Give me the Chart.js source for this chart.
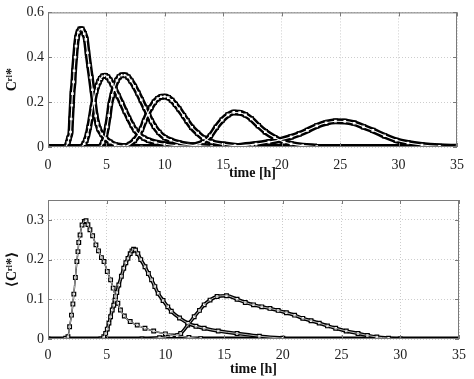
<!DOCTYPE html>
<html><head><meta charset="utf-8">
<script src="https://cdn.jsdelivr.net/npm/chart.js@4"></script>
<style>
html,body{margin:0;padding:0;background:#fff;width:474px;height:379px;overflow:hidden}
canvas{position:absolute;left:0}
#c1{top:0}
#c2{top:182px}
</style></head><body>
<canvas id="c1" width="474" height="182"></canvas>
<canvas id="c2" width="474" height="197"></canvas>
<script>
// ---------- data ----------
const xTickValues = [0,5,10,15,20,25,30,35];
const topYTicks = [0,0.2,0.4,0.6];
const botYTicks = [0,0.1,0.2,0.3];
const xTitle = "time [h]";
const topYTitle = "Cʳˡ*";
const botYTitle = "⟨Cʳˡ*⟩";

// top panel: six breakthrough curves (time h, value)
const top1T = [0,1.5,1.7,1.8,1.93,1.98,2.04,2.09,2.18,2.23,2.32,2.4,2.48,2.6,2.75,2.9,3.1,3.24,3.38,3.52,3.66,3.8,3.94,4.08,4.22,4.36,4.6,4.92,5.3,5.75,6.5,8];
const top1V = [0,0,0.02,0.04,0.067,0.125,0.186,0.238,0.29,0.34,0.40,0.45,0.487,0.512,0.525,0.525,0.505,0.48,0.42,0.364,0.31,0.255,0.195,0.139,0.105,0.081,0.058,0.038,0.022,0.01,0.004,0];
const top2T = [2.9,3.1,3.24,3.38,3.52,3.66,3.8,3.94,4.08,4.22,4.36,4.5,4.7,4.9,5.1,5.3,5.5,5.75,6.0,6.3,6.6,6.9,7.2,7.45,7.8,8.2,8.6,9.2,10,11,12.5];
const top2V = [0,0.015,0.03,0.055,0.088,0.13,0.175,0.213,0.248,0.272,0.29,0.305,0.316,0.318,0.312,0.298,0.28,0.255,0.228,0.195,0.16,0.128,0.098,0.076,0.055,0.04,0.03,0.02,0.012,0.006,0.002];
const top3T = [4.5,4.7,4.9,5.05,5.2,5.33,5.5,5.7,5.9,6.1,6.35,6.6,6.85,7.1,7.4,7.7,7.98,8.3,8.6,8.85,9.1,9.5,10,10.5,11.2,12,13,14];
const top3V = [0,0.02,0.05,0.09,0.14,0.19,0.23,0.27,0.297,0.313,0.32,0.32,0.312,0.295,0.27,0.24,0.21,0.175,0.142,0.115,0.092,0.065,0.042,0.03,0.018,0.01,0.005,0.002];
const top4T = [6.5,7.0,7.4,7.7,8.0,8.26,8.5,8.8,9.1,9.4,9.7,10.0,10.3,10.6,10.9,11.2,11.6,11.9,12.3,12.8,13.3,14,15,16,17.5];
const top4V = [0,0.012,0.03,0.05,0.08,0.115,0.145,0.175,0.2,0.216,0.224,0.225,0.22,0.208,0.19,0.17,0.14,0.117,0.088,0.062,0.04,0.022,0.012,0.006,0.002];
const top5T = [11.5,12.5,13.3,13.9,14.4,14.9,15.4,15.9,16.4,16.9,17.4,18.0,18.6,19.4,20.2,20.8,21.8,23];
const top5V = [0,0.008,0.022,0.05,0.088,0.12,0.143,0.154,0.153,0.143,0.125,0.095,0.068,0.042,0.022,0.014,0.006,0.002];
const top6T = [15,16.5,17.8,18.9,19.9,20.8,21.5,22.2,23,23.8,24.6,25.4,26.2,27,27.8,28.8,29.8,30.8,32,33.5,35];
const top6V = [0,0.006,0.013,0.022,0.032,0.045,0.058,0.074,0.094,0.108,0.115,0.114,0.106,0.09,0.074,0.05,0.03,0.018,0.009,0.003,0.001];
const baseT = [0,35];
const baseV = [0,0];

// bottom panel: three averaged curves
const botAT = [0,1.5,1.7,1.84,2.0,2.12,2.2,2.33,2.46,2.55,2.62,2.73,2.9,3.1,3.24,3.4,3.57,3.8,4.08,4.3,4.55,4.77,5.05,5.33,5.55,5.75,5.95,6.17,6.5,7.0,7.6,8.26,9,10,11,12,13];
const botAV = [0,0.002,0.006,0.031,0.06,0.088,0.113,0.155,0.195,0.22,0.243,0.262,0.287,0.296,0.298,0.288,0.275,0.26,0.237,0.222,0.205,0.195,0.17,0.149,0.128,0.107,0.09,0.073,0.058,0.044,0.035,0.027,0.02,0.013,0.008,0.004,0.001];
const botBT = [4.5,4.75,4.91,5.05,5.19,5.33,5.47,5.6,5.7,5.86,6.03,6.25,6.45,6.63,6.81,7.0,7.15,7.29,7.45,7.65,7.9,8.26,8.55,8.82,9.1,9.38,9.8,10.2,10.5,11.2,11.9,12.6,13.3,14.5,16.1,18,20];
const botBV = [0,0.006,0.014,0.025,0.04,0.056,0.073,0.085,0.098,0.117,0.136,0.158,0.178,0.192,0.203,0.215,0.222,0.226,0.224,0.215,0.2,0.182,0.165,0.149,0.132,0.115,0.097,0.081,0.07,0.053,0.04,0.032,0.027,0.02,0.014,0.007,0.002];
const botCT = [8,9.5,10.5,11.3,11.9,12.45,12.9,13.3,13.8,14.4,15.2,16.1,16.8,17.5,18.2,18.9,19.6,20.3,21.0,21.7,22.4,23.1,23.8,24.5,25.4,26.4,27.2,28,29,30];
const botCV = [0,0.003,0.008,0.014,0.035,0.056,0.072,0.086,0.098,0.107,0.109,0.1,0.092,0.086,0.081,0.077,0.072,0.066,0.06,0.052,0.046,0.04,0.033,0.027,0.02,0.014,0.009,0.005,0.002,0];

// ---------- helpers ----------
const pts = (t,v) => t.map((x,i)=>({x:x,y:v[i]}));
const SERIF = "'Liberation Serif','DejaVu Serif',serif";

function frame(){
  return {
    id:'frame',
    afterDatasetsDraw(chart){
      const a = chart.chartArea, ctx = chart.ctx;
      ctx.save();
      ctx.strokeStyle = '#7a7a7a'; ctx.lineWidth = 1;
      ctx.strokeRect(a.left+0.5, a.top+0.5, a.right-a.left-1, a.bottom-a.top-1);
      const xs = chart.scales.x, ys = chart.scales.y;
      ctx.beginPath();
      xs.ticks.forEach(tk=>{const px=Math.round(xs.getPixelForValue(tk.value))+0.5;
        ctx.moveTo(px,a.bottom); ctx.lineTo(px,a.bottom-4);
        ctx.moveTo(px,a.top); ctx.lineTo(px,a.top+4);});
      ys.ticks.forEach(tk=>{const py=Math.round(ys.getPixelForValue(tk.value))+0.5;
        ctx.moveTo(a.left,py); ctx.lineTo(a.left+4,py);
        ctx.moveTo(a.right,py); ctx.lineTo(a.right-4,py);});
      ctx.stroke();
      ctx.restore();
    }
  };
}

function makeOptions(yTicks, yMax, yTitle, padTop, xHeight, tickPad, titlePadBottom){
  return {
    responsive:false, animation:false, devicePixelRatio:1,
    layout:{padding:{left:0,right:7,top:padTop,bottom:0}},
    plugins:{legend:{display:false}, tooltip:{enabled:false}},
    elements:{line:{tension:0.4, cubicInterpolationMode:'monotone'}},
    scales:{
      x:{type:'linear', min:0, max:35,
        afterBuildTicks(s){ s.ticks = xTickValues.map(v=>({value:v})); },
        afterFit(s){ s.height = xHeight; },
        grid:{color:'#cdcdcd', lineWidth:1, drawTicks:false},
        border:{display:false, dash:[1,2]},
        ticks:{font:{family:SERIF,size:14}, color:'#222', padding:tickPad, maxRotation:0},
        title:{display:true, text:xTitle, color:'#111',
          font:{family:SERIF,size:14,weight:'bold'}, padding:{top:0,bottom:titlePadBottom}}
      },
      y:{type:'linear', min:0, max:yMax,
        afterBuildTicks(s){ s.ticks = yTicks.map(v=>({value:v})); },
        afterFit(s){ s.width = 48; },
        grid:{color:'#cdcdcd', lineWidth:1, drawTicks:false},
        border:{display:false, dash:[1,2]},
        ticks:{font:{family:SERIF,size:14}, color:'#222', padding:4},
        title:{display:true, text:yTitle, color:'#111',
          font:{family:SERIF,size:14,weight:'bold'}, padding:{top:4,bottom:0}}
      }
    }
  };
}

// ---------- top chart ----------
const topSeries = [[top1T,top1V],[top2T,top2V],[top3T,top3V],[top4T,top4V],[top5T,top5V],[top6T,top6V],[baseT,baseV]];
const topDatasets = [];
topSeries.forEach(([t,v])=>{
  topDatasets.push({data:pts(t,v), borderColor:'#ffffff', borderWidth:1.1, pointRadius:0, order:0});
});
topSeries.forEach(([t,v])=>{
  topDatasets.push({data:pts(t,v), borderColor:'#000', borderWidth:6, pointStyle:'rect',
    pointRadius:2.8, pointBorderWidth:1.3, pointBorderColor:'#000', pointBackgroundColor:'#fff', order:1});
});
new Chart(document.getElementById('c1'), {
  type:'line', data:{datasets:topDatasets},
  options:makeOptions(topYTicks, 0.6, topYTitle, 9, 35, 10, 0),
  plugins:[frame()]
});

// ---------- bottom chart ----------
const botSeries = [[botAT,botAV,1.5],[botBT,botBV,3.5],[botCT,botCV,3.5]];
const botDatasets = [];
botSeries.forEach(([t,v])=>{
  botDatasets.push({data:pts(t,v), borderColor:'#b5b5b5', borderWidth:1, pointRadius:0, order:0});
});
botSeries.forEach(([t,v,w])=>{
  botDatasets.push({data:pts(t,v), borderColor:'#000', borderWidth:w, pointStyle:'rect',
    pointRadius:2.6, pointBorderWidth:1.2, pointBorderColor:'#000', pointBackgroundColor:'#fff', order:1});
});
botDatasets.push({data:pts(baseT,baseV), borderColor:'#000', borderWidth:5, pointRadius:0, order:2});
new Chart(document.getElementById('c2'), {
  type:'line', data:{datasets:botDatasets},
  options:makeOptions(botYTicks, 0.35, botYTitle, 18, 40, 8, 1.5),
  plugins:[frame()]
});
</script>
</body></html>
